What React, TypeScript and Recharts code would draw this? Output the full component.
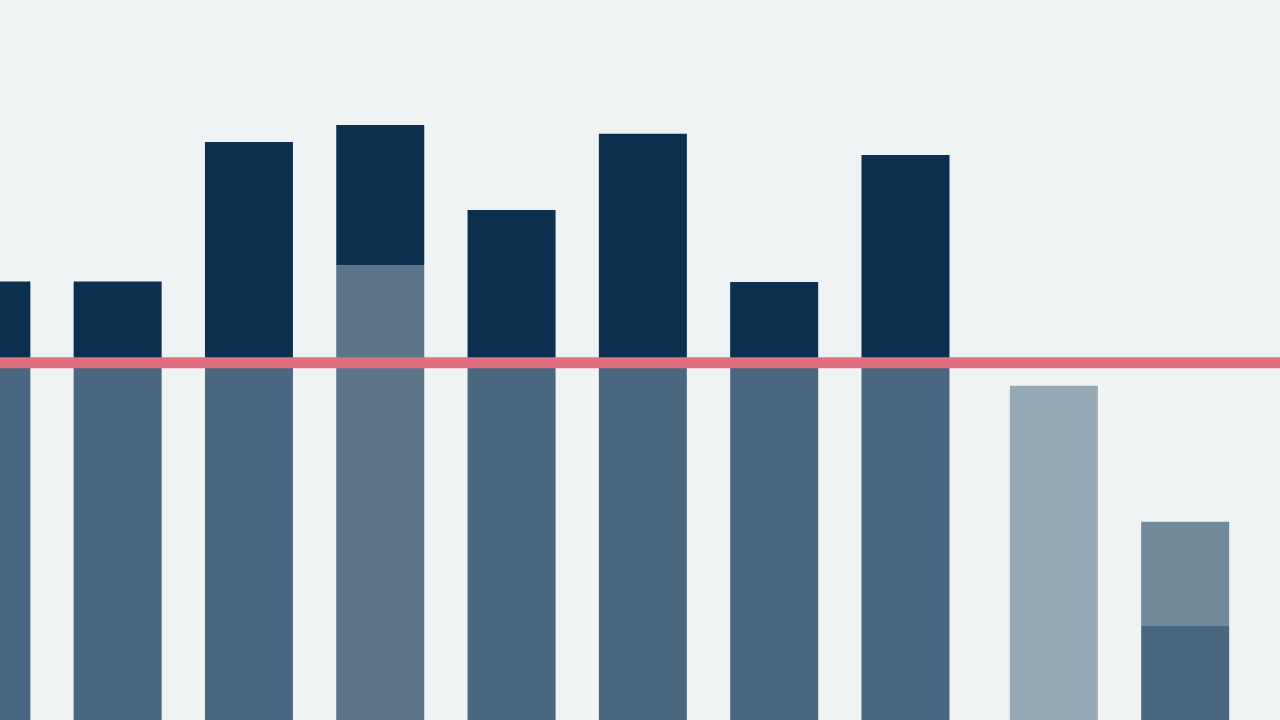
import { BarChart, Bar, Cell, XAxis, YAxis, ReferenceLine } from "recharts";

// bar centres on a numeric x axis (last two sit a little further right)
const positions = [0, 1, 2, 3, 4, 5, 6, 7, 8.13, 9.13];
const baseline = [100, 100, 100, 121.5, 100, 100, 100, 100, 94.9, 42.1];
const excess = [17.9, 17.9, 48.7, 30.9, 33.7, 50.5, 17.8, 45.8, 0, 0];
const projected = [0, 0, 0, 0, 0, 0, 0, 0, 0, 22.8];
const target = 100;

const NAVY = "#0b2f4e";
const SLATE = "#4a6781";
const baseColors = [SLATE, SLATE, SLATE, "#5a7589", SLATE, SLATE, SLATE, SLATE, "#95a9b6", SLATE];

const data = positions.map((x, i) => ({
  x,
  baseline: baseline[i],
  excess: excess[i],
  projected: projected[i],
}));

export default function App() {
  return (
    <div
      style={{
        position: "fixed",
        left: 0,
        top: 0,
        width: 1280,
        height: 720,
        overflow: "hidden",
        background: "#eff3f4",
      }}
    >
      <BarChart width={1280} height={816} data={data} margin={{ top: 0, right: 0, bottom: 0, left: 0 }}>
        <XAxis
          type="number"
          dataKey="x"
          domain={[0.1066, 9.855]}
          allowDataOverflow
          hide
        />
        <YAxis type="number" domain={[0, 180]} allowDataOverflow hide />
        <Bar dataKey="baseline" stackId="a" barSize={88} isAnimationActive={false}>
          {data.map((d, i) => (
            <Cell key={i} fill={baseColors[i]} />
          ))}
        </Bar>
        <Bar dataKey="excess" stackId="a" barSize={88} fill={NAVY} isAnimationActive={false} />
        <Bar dataKey="projected" stackId="a" barSize={88} fill="#718b9c" isAnimationActive={false} />
        <ReferenceLine y={target} stroke="#e0707f" strokeWidth={11} />
      </BarChart>
    </div>
  );
}
